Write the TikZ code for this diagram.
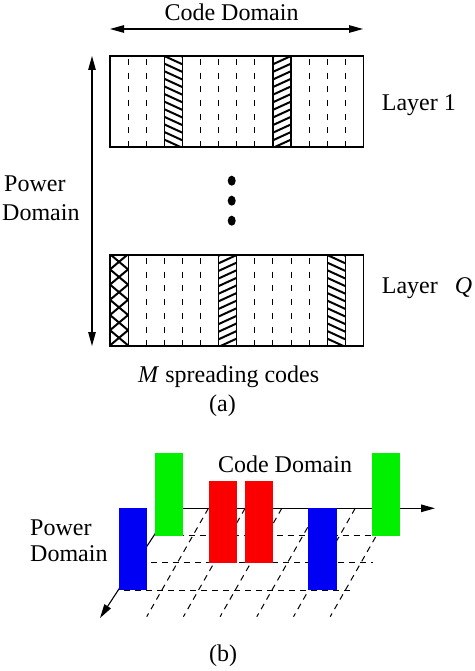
\documentclass[tikz,border=0pt]{standalone}
\usepackage{fontspec}
\setmainfont{Liberation Serif}
\usetikzlibrary{arrows.meta}
\definecolor{pgreen}{RGB}{0,240,0}
\definecolor{pblue}{RGB}{0,0,245}
\definecolor{pred}{RGB}{250,0,0}
\newcommand\hatchDown[4]{% x0 x1 ytop ybot : lines falling to the right
  \begin{scope}
    \clip (#1,#3) rectangle (#2,#4);
    \foreach \t in {-2,...,13}
      \draw[hatchline] (#1,{#3+\t*7.6}) -- (#2,{#3+\t*7.6+8.3});
  \end{scope}
  \draw[box] (#1,#3) rectangle (#2,#4);}
\newcommand\hatchUp[4]{% lines rising to the right
  \begin{scope}
    \clip (#1,#3) rectangle (#2,#4);
    \foreach \t in {-2,...,13}
      \draw[hatchline] (#1,{#3+\t*7.6+8.3}) -- (#2,{#3+\t*7.6});
  \end{scope}
  \draw[box] (#1,#3) rectangle (#2,#4);}
\newcommand\crossCol[4]{%
  \begin{scope}
    \clip (#1,#3) rectangle (#2,#4);
    \foreach \t in {-1,...,7}{
      \draw[hatchline] (#1,{#3-0.8+\t*15.2}) -- (#2,{#3-0.8+\t*15.2+15.2});
      \draw[hatchline] (#1,{#3-0.8+\t*15.2+15.2}) -- (#2,{#3-0.8+\t*15.2});}
  \end{scope}
  \draw[box] (#1,#3) rectangle (#2,#4);}
\begin{document}
\begin{tikzpicture}[x=1pt,y=-1pt,
  font=\fontsize{24}{28}\selectfont,
  box/.style={draw, line width=1.2pt},
  codeline/.style={dash pattern=on 6pt off 7.7pt, dash phase=-3pt, line width=1pt},
  hatchline/.style={line width=2pt},
  axisarrow/.style={line width=1.1pt, -{Triangle[length=14pt,width=7.5pt]}},
  dblarrow/.style={line width=1.1pt, {Triangle[length=14pt,width=7.5pt]}-{Triangle[length=14pt,width=7.5pt]}},
  lbl/.style={inner sep=0pt},
  gridline/.style={dash pattern=on 6pt off 5pt, line width=1pt},
  dot/.style={fill=black, draw=none}]

\useasboundingbox (0,0) rectangle (474,671);

% ---------------- (a) ----------------
\node[lbl, anchor=base] (cda) at (231.5,20.7) {Code Domain};
\coordinate (cdl) at (110,29);
\coordinate (cdr) at (363,29);
\draw[dblarrow] (cdl) -- (cdr);

\coordinate (pdt) at (92,56);
\coordinate (pdb) at (92,346);
\draw[dblarrow] (pdt) -- (pdb);
\node[lbl, anchor=base west] (pwa) at (4,191.7) {Power};
\node[lbl, anchor=base west] (dma) at (2,220.2) {Domain};

% Layer 1 box
\foreach \k in {1,2,5,6,7,8,11,12,13}
  \draw[codeline] ({110+18.1*\k},56) -- ({110+18.1*\k},147);
\hatchDown{164.3}{182.4}{56}{147}
\hatchUp{272.9}{291}{56}{147}
\draw[box] (110,56) rectangle (363.4,147);
\node[lbl, anchor=base west] (l1) at (381.7,110.7) {Layer 1};

% dots
\fill[dot] (231.7,180.7) ellipse (4pt and 5pt);
\fill[dot] (231.7,200.7) ellipse (4pt and 5pt);
\fill[dot] (231.7,220.7) ellipse (4pt and 5pt);

% Layer Q box
\foreach \k in {2,3,4,5,8,9,10,11}
  \draw[codeline] ({110+18.1*\k},255) -- ({110+18.1*\k},346);
\crossCol{110}{128.1}{255}{346}
\hatchUp{218.6}{236.7}{255}{346}
\hatchDown{327.2}{345.3}{255}{346}
\draw[box] (110,255) rectangle (363.4,346);
\node[lbl, anchor=base west] (lq) at (381.7,293) {Layer\hspace{17pt}\textit{Q}};

\node[lbl, anchor=base west] (msc) at (138,382) {\textit{M} spreading codes};
\node[lbl, anchor=base] (capa) at (222.5,411.7) {(a)};

% ---------------- (b) ----------------
\coordinate (O) at (171.7,508.3);
% grid
\draw[gridline] (155.7,535.7) -- (372,535.7);
\draw[gridline] (140,562.7) -- (373,562.7);
\draw[gridline] (124,590) -- (353,590);
\foreach \k in {1,...,6}
  \draw[gridline] ({171.7+36.7*\k},508.3) -- ({110+36.7*\k},616.7);
% axes
\coordinate (xend) at (435,508.3);
\coordinate (yend) at (100,618);
\draw[axisarrow] (O) -- (xend);
\draw[axisarrow] (O) -- (yend);
% bars
\fill[pgreen] (155,453.3) rectangle (182.7,535.7);
\fill[pblue] (119,507.7) rectangle (146.7,590);
\fill[pred] (209,480.7) rectangle (237.3,562.7);
\fill[pred] (245,480.7) rectangle (273.3,562.7);
\fill[pblue] (308.3,507.7) rectangle (336.7,590);
\fill[pgreen] (371.7,453.3) rectangle (400,535.7);

\node[lbl, anchor=base] (cdb) at (285,472.3) {Code Domain};
\node[lbl, anchor=base west] (pwb) at (30,535) {Power};
\node[lbl, anchor=base west] (dmb) at (30,561.7) {Domain};
\node[lbl, anchor=base] (capb) at (223,661.7) {(b)};
\end{tikzpicture}
\end{document}
